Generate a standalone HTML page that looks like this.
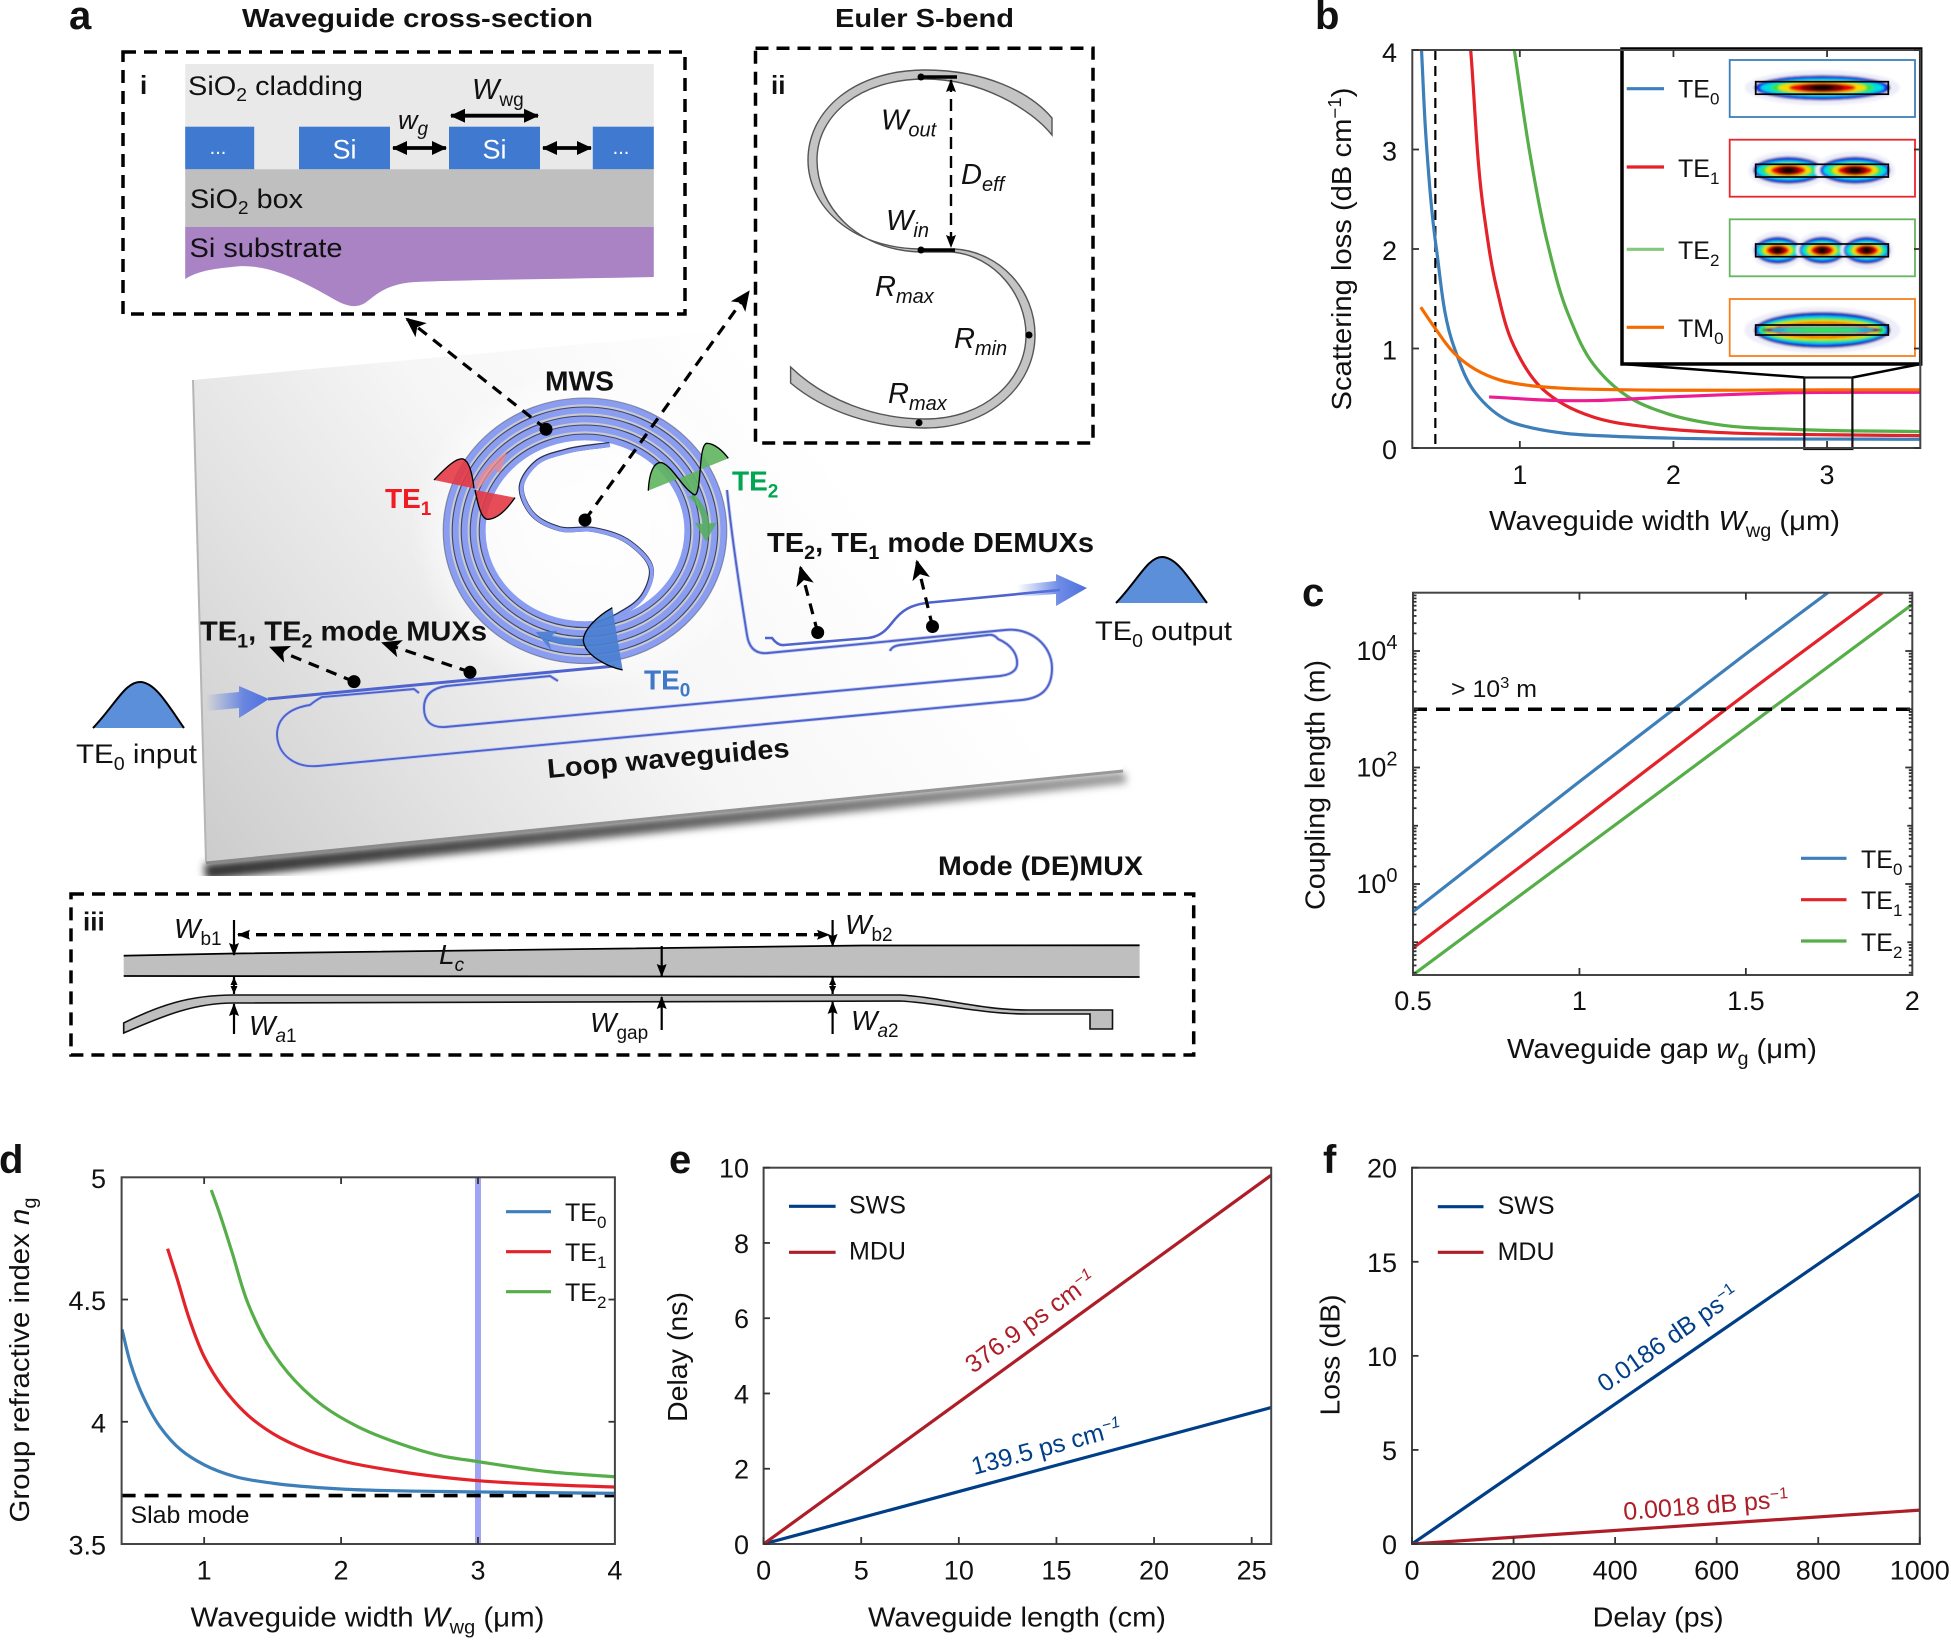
<!DOCTYPE html>
<html lang="en">
<head>
<meta charset="utf-8">
<title>Multimode waveguide figure</title>
<style>
html,body{margin:0;padding:0;background:#fff}
svg{display:block;font-family:"Liberation Sans",sans-serif}
text{fill:#111}
.b{font-weight:bold}
.i{font-style:italic}
.box{fill:none;stroke:#000;stroke-width:3.5;stroke-dasharray:13 8}
.da{stroke:#000;stroke-width:3.2;stroke-dasharray:11 8;fill:none;marker-end:url(#ah)}
.dot{fill:#000}
.wg{fill:none;stroke:#4f63c8;stroke-width:1.9}
.wgh{fill:none;stroke:#c2ccf4;stroke-width:3.6}
</style>
</head>
<body>
<svg id="fig" width="1951" height="1641" viewBox="0 0 1951 1641">
<defs>
<marker id="ah" markerUnits="userSpaceOnUse" markerWidth="22" markerHeight="20" refX="18" refY="9" orient="auto-start-reverse"><path d="M0,0 L20,9 L0,18 L5,9 Z" fill="#000"/></marker>
<marker id="ahs" markerUnits="userSpaceOnUse" markerWidth="14" markerHeight="12" refX="12" refY="5" orient="auto-start-reverse"><path d="M0,0 L13,5 L0,10 L2,5 Z" fill="#000"/></marker>
<marker id="aht" markerUnits="userSpaceOnUse" markerWidth="9" markerHeight="8" refX="8" refY="3.5" orient="auto-start-reverse"><path d="M0,0 L8,3.5 L0,7 Z" fill="#000"/></marker>
<marker id="ahm" markerUnits="userSpaceOnUse" markerWidth="16" markerHeight="16" refX="14" refY="7" orient="auto-start-reverse"><path d="M0,0 L15,7 L0,14 Z" fill="#000"/></marker>
<linearGradient id="chipg" gradientUnits="userSpaceOnUse" x1="206" y1="862" x2="800" y2="420"><stop offset="0" stop-color="#cccccc"/><stop offset=".32" stop-color="#e3e3e3"/><stop offset=".62" stop-color="#f6f6f6"/><stop offset="1" stop-color="#fff"/></linearGradient>
<linearGradient id="shadowg" gradientUnits="userSpaceOnUse" x1="204" y1="0" x2="1124" y2="0"><stop offset="0" stop-color="#333"/><stop offset=".6" stop-color="#666"/><stop offset="1" stop-color="#999"/></linearGradient>
<linearGradient id="edgeg" gradientUnits="userSpaceOnUse" x1="204" y1="0" x2="1124" y2="0"><stop offset="0" stop-color="#888"/><stop offset="1" stop-color="#999"/></linearGradient>
<radialGradient id="halo"><stop offset="0" stop-color="#fff" stop-opacity=".9"/><stop offset=".75" stop-color="#fff" stop-opacity=".6"/><stop offset="1" stop-color="#fff" stop-opacity="0"/></radialGradient>
<linearGradient id="inarrow" x1="0" x2="1" y1="0" y2="0"><stop offset="0" stop-color="#5577e0" stop-opacity="0"/><stop offset=".6" stop-color="#5577e0" stop-opacity=".85"/><stop offset="1" stop-color="#4c6fe0"/></linearGradient>
<filter id="blur4"><feGaussianBlur stdDeviation="4"/></filter>
<filter id="blur1" x="-10%" y="-30%" width="120%" height="160%"><feGaussianBlur stdDeviation="1"/></filter>
<clipPath id="shclip"><rect x="180" y="700" width="1000" height="176"/></clipPath>
<clipPath id="clip-b"><rect x="1412.3" y="50" width="508" height="398"/></clipPath>
<clipPath id="clip-c"><rect x="1413" y="592.7" width="499.3" height="382.3"/></clipPath>
<clipPath id="clip-d"><rect x="121.6" y="1177.3" width="493.3" height="366.7"/></clipPath>
<clipPath id="clip-e"><rect x="763.6" y="1167.7" width="507.6" height="376.3"/></clipPath>
<clipPath id="clip-f"><rect x="1412" y="1167.7" width="507.8" height="376.3"/></clipPath>
</defs>

<!-- PANEL A -->
<g id="panel-a">
<text class="b" x="69" y="29" font-size="40">a</text>
<text class="b" x="242" y="27" font-size="26" textLength="351" lengthAdjust="spacingAndGlyphs">Waveguide cross-section</text>
<text class="b" x="835" y="27" font-size="26" textLength="179" lengthAdjust="spacingAndGlyphs">Euler S-bend</text>

<g>
<polygon points="204,864 1124,772 1127,783 206,880" fill="url(#shadowg)" filter="url(#blur4)" clip-path="url(#shclip)"/>
<polygon points="193,380 1060,300 1123,770 206,862" fill="url(#chipg)"/>
<line x1="193" y1="380" x2="206" y2="862" stroke="#b5b5b5" stroke-width="2"/>
<line x1="206" y1="863" x2="1123" y2="771" stroke="url(#edgeg)" stroke-width="3"/>
</g>
<ellipse cx="585" cy="530" rx="175" ry="162" fill="url(#halo)"/>

<!-- box i -->
<rect x="123" y="52" width="562" height="262" fill="#fff" stroke="none"/>
<g>
<rect x="185.2" y="64" width="468.6" height="106" fill="#e9e9e9"/>
<rect x="185.2" y="126.7" width="69" height="42.6" fill="#3f79d0"/>
<rect x="299" y="126.7" width="91" height="42.6" fill="#3f79d0"/>
<rect x="449" y="126.7" width="91" height="42.6" fill="#3f79d0"/>
<rect x="592.8" y="126.7" width="61" height="42.6" fill="#3f79d0"/>
<rect x="185.2" y="169.3" width="468.6" height="58" fill="#bfbfbf"/>
<path d="M185.2,227 H653.8 V277 C560,279 460,280 415,282 C385,284 375,296 365,303 C355,309 345,306 330,297 C300,280 265,262 232,267 C212,269 198,271 185.2,279 Z" fill="#aa83c4"/>
</g>
<rect class="box" x="123" y="52" width="562" height="262"/>
<text class="b" x="140" y="94" font-size="26">i</text>
<text x="188" y="95" font-size="27" textLength="175" lengthAdjust="spacingAndGlyphs">SiO<tspan dy="6" font-size="18">2</tspan><tspan dy="-6"> cladding</tspan></text>
<text x="190" y="208" font-size="27" textLength="113" lengthAdjust="spacingAndGlyphs">SiO<tspan dy="6" font-size="18">2</tspan><tspan dy="-6"> box</tspan></text>
<text x="189.5" y="257" font-size="27" textLength="153" lengthAdjust="spacingAndGlyphs">Si substrate</text>
<text x="344.5" y="158.5" font-size="27" text-anchor="middle" style="fill:#fff">Si</text>
<text x="494.5" y="158.5" font-size="27" text-anchor="middle" style="fill:#fff">Si</text>
<text x="218" y="154" font-size="20" text-anchor="middle" style="fill:#fff">...</text>
<text x="621" y="154" font-size="20" text-anchor="middle" style="fill:#fff">...</text>
<text x="472" y="99" font-size="29"><tspan class="i">W</tspan><tspan dy="7" font-size="19">wg</tspan></text>
<text x="398" y="129" font-size="27"><tspan class="i">w</tspan><tspan dy="6" font-size="19" class="i">g</tspan></text>
<g stroke="#000" stroke-width="3.8">
<line x1="451" y1="115.7" x2="538" y2="115.7" marker-start="url(#ahm)" marker-end="url(#ahm)"/>
<line x1="393" y1="148" x2="446" y2="148" marker-start="url(#ahm)" marker-end="url(#ahm)"/>
<line x1="543" y1="148" x2="591" y2="148" marker-start="url(#ahm)" marker-end="url(#ahm)"/>
</g>

<!-- box ii -->
<rect x="755.5" y="48.3" width="337.5" height="394.7" fill="#fff" stroke="none"/>
<g>
<path d="M1052,118 C1030,92 985,70 925,70 C855,70 808,110 808,160 C808,205 850,248 920,249 L955,250 L952,252 L920,252 C855,250 817,205 817,160 C817,115 860,79 925,79 C980,79 1030,108 1052,135 Z" fill="#c4c4c4" stroke="#555" stroke-width="1.4"/>
<path d="M955,249 C1000,252 1035,290 1035,335 C1035,385 990,428 925,428 C875,428 825,412 790.6,383 L790.6,367 C825,400 875,419 925,419 C985,419 1026,380 1026,335 C1026,295 995,256 952,252 Z" fill="#c4c4c4" stroke="#555" stroke-width="1.4"/>
</g>
<rect class="box" x="755.5" y="48.3" width="337.5" height="394.7"/>
<text class="b" x="771" y="94" font-size="26">ii</text>
<g>
<line x1="919" y1="77" x2="957" y2="77" stroke="#000" stroke-width="3.5"/>
<line x1="919" y1="250" x2="955" y2="250" stroke="#000" stroke-width="3.5"/>
<line x1="951" y1="80" x2="951" y2="247" stroke="#000" stroke-width="2.4" stroke-dasharray="12 7" marker-start="url(#ahs)" marker-end="url(#ahs)"/>
<circle class="dot" cx="921" cy="77" r="3.5"/><circle class="dot" cx="921" cy="250" r="3.5"/><circle class="dot" cx="1029" cy="335" r="3.5"/><circle class="dot" cx="919" cy="422.7" r="3.5"/>
</g>
<g font-size="29">
<text x="881" y="129.3"><tspan class="i">W</tspan><tspan dy="7" font-size="20" class="i">out</tspan></text>
<text x="961" y="184"><tspan class="i">D</tspan><tspan dy="7" font-size="20" class="i">eff</tspan></text>
<text x="886" y="230"><tspan class="i">W</tspan><tspan dy="7" font-size="20" class="i">in</tspan></text>
<text x="875" y="296"><tspan class="i">R</tspan><tspan dy="7" font-size="20" class="i">max</tspan></text>
<text x="954" y="348"><tspan class="i">R</tspan><tspan dy="7" font-size="20" class="i">min</tspan></text>
<text x="888" y="403"><tspan class="i">R</tspan><tspan dy="7" font-size="20" class="i">max</tspan></text>
</g>

<!-- spiral -->
<g id="spiral"></g>
<g>
<path class="wgh" d="M727,490 C730,520 735,560 747,635 Q750,655 768,653 L1005,630 C1030,627 1052,645 1052,668 C1052,690 1040,698 1022,700 L318,766 C295,768 278,755 277,735 C277,718 290,708 310,705 Q316,700 322,697 L414,689 L419,693"/>
<path class="wg" d="M727,490 C730,520 735,560 747,635 Q750,655 768,653 L1005,630 C1030,627 1052,645 1052,668 C1052,690 1040,698 1022,700 L318,766 C295,768 278,755 277,735 C277,718 290,708 310,705 Q316,700 322,697 L414,689 L419,693"/>
<path class="wgh" d="M890,651 Q892,646 900,645 L988,635 Q994,634 998,639 C1012,645 1018,655 1017,665 C1016,672 1008,675 1000,676 L445,727 C430,728 424,720 424,708 C424,695 432,688 447,686 L550,676 L558,681"/>
<path class="wg" d="M890,651 Q892,646 900,645 L988,635 Q994,634 998,639 C1012,645 1018,655 1017,665 C1016,672 1008,675 1000,676 L445,727 C430,728 424,720 424,708 C424,695 432,688 447,686 L550,676 L558,681"/>
<path d="M268,699 L615,666" fill="none" stroke="#4f63cf" stroke-width="3"/>
<path d="M765,638 L772,638 Q778,646 784,645 L868,638 C885,636 890,624 897,617 C905,608 915,604 930,602.5 L1060,590" fill="none" stroke="#4f63cf" stroke-width="2.6"/>
</g>
<polygon points="206,695 239,692 239,686 269,699 239,718 239,708 206,711" fill="url(#inarrow)"/>
<polygon points="1017,585 1056,581 1056,574 1087,588 1056,606 1056,594 1017,597" fill="url(#inarrow)"/>

<!-- mode lobes -->
<g transform="translate(420 380) scale(.3333)">
<path d="M200,260 L262,212 L240,280 L225,268 L175,328 L162,310 Z" fill="#e88" opacity=".75"/>
<path d="M42,300 C80,260 110,232 130,237 C150,245 158,290 162,325 Z" fill="#e33a44" fill-opacity=".9"/>
<path d="M42,300 C80,260 110,232 130,237 C150,245 158,290 162,325" fill="none" stroke="#000" stroke-width="4"/>
<path d="M165,330 C175,380 185,420 205,418 C240,415 270,375 285,353 Z" fill="#e33a44" fill-opacity=".9"/>
<path d="M165,330 C175,380 185,420 205,418 C240,415 270,375 285,353" fill="none" stroke="#000" stroke-width="4"/>
<path d="M825,345 C850,370 865,400 868,430 L890,428 L858,485 L825,428 L848,432 C845,400 830,370 805,350 Z" fill="#54ae58" opacity=".85"/>
<path d="M685,332 C688,270 705,245 725,248 C760,260 790,330 825,345 C845,340 835,195 860,190 C885,190 910,215 925,235 Z" fill="#5fb55f" fill-opacity=".9"/>
<path d="M685,332 C688,270 705,245 725,248 C760,260 790,330 825,345 C845,340 835,195 860,190 C885,190 910,215 925,235" fill="none" stroke="#000" stroke-width="4"/>
<path d="M490,795 C440,800 400,790 385,780 L395,812 L347,757 L412,752 L395,768 C420,775 460,778 500,775 Z" fill="#4a7fd2" opacity=".9"/>
<path d="M577,683 C530,710 490,750 490,782 C495,825 560,860 608,870 Z" fill="#4a7fd2" fill-opacity=".93"/>
<path d="M577,683 C530,710 490,750 490,782 C495,825 560,860 608,870" fill="none" stroke="#000" stroke-width="4"/>
</g>

<!-- gaussians -->
<path d="M93,728 C115,705 125,682 140,682 C155,682 168,705 184,728 Z" fill="#5b8fd9" stroke="none"/>
<path d="M93,728 C115,705 125,682 140,682 C155,682 168,705 184,728" fill="none" stroke="#000" stroke-width="2"/>
<path d="M1116,603 C1138,580 1148,557 1162,557 C1177,557 1190,580 1207,603 Z" fill="#5b8fd9"/>
<path d="M1116,603 C1138,580 1148,557 1162,557 C1177,557 1190,580 1207,603" fill="none" stroke="#000" stroke-width="2"/>
<text x="76" y="763" font-size="27" textLength="121" lengthAdjust="spacingAndGlyphs">TE<tspan dy="7" font-size="18">0</tspan><tspan dy="-7"> input</tspan></text>
<text x="1095" y="640" font-size="27" textLength="137" lengthAdjust="spacingAndGlyphs">TE<tspan dy="7" font-size="18">0</tspan><tspan dy="-7"> output</tspan></text>

<!-- dashed callouts -->
<g>
<line class="da" x1="546" y1="429" x2="407" y2="319"/>
<line class="da" x1="585" y1="520" x2="748.5" y2="292"/>
<line class="da" x1="354" y1="681.6" x2="271" y2="647.5"/>
<line class="da" x1="470" y1="672" x2="383" y2="643"/>
<line class="da" x1="817.7" y1="632.5" x2="800.5" y2="567.5"/>
<line class="da" x1="932.5" y1="626.5" x2="917" y2="561.6"/>
<circle class="dot" cx="546" cy="429.3" r="6.5"/><circle class="dot" cx="585" cy="520" r="6.5"/><circle class="dot" cx="354" cy="681.6" r="6.5"/><circle class="dot" cx="470" cy="672.3" r="6.5"/><circle class="dot" cx="817.7" cy="632.5" r="6.5"/><circle class="dot" cx="932.5" cy="626.5" r="6.5"/>
</g>

<text class="b" x="545" y="390.5" font-size="28" textLength="69" lengthAdjust="spacingAndGlyphs">MWS</text>
<text class="b" x="385" y="508" font-size="28" style="fill:#f01c24">TE<tspan dy="7" font-size="19" style="fill:#f01c24">1</tspan></text>
<text class="b" x="732" y="490.5" font-size="28" style="fill:#00a651">TE<tspan dy="7" font-size="19" style="fill:#00a651">2</tspan></text>
<text class="b" x="644" y="689.5" font-size="28" style="fill:#3f78c9">TE<tspan dy="7" font-size="19" style="fill:#3f78c9">0</tspan></text>
<text class="b" x="767" y="552" font-size="28" textLength="327" lengthAdjust="spacingAndGlyphs">TE<tspan dy="7" font-size="19">2</tspan><tspan dy="-7">, TE</tspan><tspan dy="7" font-size="19">1</tspan><tspan dy="-7"> mode DEMUXs</tspan></text>
<text class="b" x="200" y="640.5" font-size="28" textLength="287" lengthAdjust="spacingAndGlyphs">TE<tspan dy="7" font-size="19">1</tspan><tspan dy="-7">, TE</tspan><tspan dy="7" font-size="19">2</tspan><tspan dy="-7"> mode MUXs</tspan></text>
<text class="b" x="548" y="778" font-size="27" transform="rotate(-5 548 778)" textLength="243" lengthAdjust="spacingAndGlyphs">Loop waveguides</text>
<text class="b" x="938" y="875" font-size="27" textLength="205" lengthAdjust="spacingAndGlyphs">Mode (DE)MUX</text>

<!-- box iii -->
<rect class="box" x="71" y="894" width="1122.7" height="161"/>
<text class="b" x="83" y="930.7" font-size="26">iii</text>
<g>
<path d="M123.7,955.7 L234,953.5 L862.6,945.5 L1139.6,945.3 V977 L123.7,976 Z" fill="#bfbfbf" stroke="none"/>
<path d="M123.7,955.7 L234,953.5 L862.6,945.5 L1139.6,945.3 M123.7,976 L1139.6,977" fill="none" stroke="#000" stroke-width="1.8"/>
<path d="M123.7,1023 C160,1005 190,995 234,995 L900,995 C940,997 980,1010 1028,1010 L1112.5,1010 V1029 H1090 V1014 H1028 C980,1014 940,1003 900,1001 L234,1003 C195,1003 165,1015 123.7,1033 Z" fill="#bfbfbf" stroke="#111" stroke-width="1.6"/>
</g>
<g stroke="#000" stroke-width="2.2">
<line x1="234" y1="920" x2="234" y2="955" marker-end="url(#ahs)"/>
<line x1="832.6" y1="920" x2="832.6" y2="946" marker-end="url(#ahs)"/>
<line x1="661.7" y1="946" x2="661.7" y2="976" marker-end="url(#ahs)"/>
<line x1="234" y1="977" x2="234" y2="994" marker-start="url(#aht)" marker-end="url(#aht)"/>
<line x1="832.6" y1="977" x2="832.6" y2="994" marker-start="url(#aht)" marker-end="url(#aht)"/>
<line x1="234" y1="1034" x2="234" y2="1004" marker-end="url(#ahs)"/>
<line x1="661.7" y1="1030" x2="661.7" y2="997" marker-end="url(#ahs)"/>
<line x1="832.6" y1="1034" x2="832.6" y2="1002" marker-end="url(#ahs)"/>
<line x1="238" y1="934.7" x2="829" y2="934.7" stroke-width="3.4" stroke-dasharray="11 7" marker-start="url(#ahs)" marker-end="url(#ahs)"/>
</g>
<g font-size="28">
<text x="174" y="938"><tspan class="i">W</tspan><tspan dy="7" font-size="19">b1</tspan></text>
<text x="845" y="934"><tspan class="i">W</tspan><tspan dy="7" font-size="19">b2</tspan></text>
<text x="439" y="964"><tspan class="i">L</tspan><tspan dy="7" font-size="19" class="i">c</tspan></text>
<text x="249" y="1035"><tspan class="i">W</tspan><tspan dy="7" font-size="19"><tspan class="i">a</tspan>1</tspan></text>
<text x="590" y="1032"><tspan class="i">W</tspan><tspan dy="7" font-size="19">gap</tspan></text>
<text x="851" y="1030"><tspan class="i">W</tspan><tspan dy="7" font-size="19"><tspan class="i">a</tspan>2</tspan></text>
</g>
</g>

<!-- PANEL B -->
<g id="panel-b">
<text class="b" x="1315" y="29" font-size="40">b</text>
<g id="b-curves" clip-path="url(#clip-b)"></g>
<g>
<rect x="1622" y="49" width="298.7" height="315" fill="#fff" stroke="#000" stroke-width="3.5"/>
<path d="M1622,364 L1804.3,377.5 M1920.7,364 L1852.4,377.5" stroke="#000" stroke-width="2.5" fill="none"/>
<rect x="1804.3" y="377.5" width="48.1" height="71.5" fill="none" stroke="#111" stroke-width="2.2"/>
<line x1="1626.7" x2="1664" y1="88.7" y2="88.7" stroke="#3d7fb9" stroke-width="3.2"/>
<line x1="1626.7" x2="1664" y1="167" y2="167" stroke="#e3222a" stroke-width="3.2"/>
<line x1="1626.7" x2="1664" y1="249.3" y2="249.3" stroke="#85c880" stroke-width="3.2"/>
<line x1="1626.7" x2="1664" y1="327.3" y2="327.3" stroke="#f56b00" stroke-width="3.2"/>
<text x="1678" y="97.5" font-size="25">TE<tspan dy="7" font-size="17">0</tspan></text>
<text x="1678" y="177" font-size="25">TE<tspan dy="7" font-size="17">1</tspan></text>
<text x="1678" y="259" font-size="25">TE<tspan dy="7" font-size="17">2</tspan></text>
<text x="1678" y="337" font-size="25">TM<tspan dy="7" font-size="17">0</tspan></text>
<rect x="1729.7" y="60" width="185.3" height="57" fill="#fff" stroke="#3d7fb9" stroke-width="1.8"/>
<rect x="1729.7" y="139.7" width="185.3" height="57" fill="#fff" stroke="#e8272d" stroke-width="1.8"/>
<rect x="1729.7" y="219.3" width="185.3" height="57" fill="#fff" stroke="#68b560" stroke-width="1.8"/>
<rect x="1729.7" y="299" width="185.3" height="57" fill="#fff" stroke="#f7801e" stroke-width="1.8"/>
<g id="fields" filter="url(#blur1)"></g>
<rect x="1755.7" y="81.7" width="132.6" height="12.5" fill="none" stroke="#000" stroke-width="1.7"/>
<rect x="1755.7" y="164.3" width="132.6" height="12.7" fill="none" stroke="#000" stroke-width="1.7"/>
<rect x="1755.7" y="244" width="132.6" height="12.7" fill="none" stroke="#000" stroke-width="1.7"/>
<rect x="1755.7" y="325" width="132.6" height="10" fill="none" stroke="#000" stroke-width="1.7"/>
</g>
<g id="b-axes"></g>
<text x="1489" y="530" font-size="28" textLength="351" lengthAdjust="spacingAndGlyphs">Waveguide width <tspan class="i">W</tspan><tspan dy="7" font-size="19">wg</tspan><tspan dy="-7"> (μm)</tspan></text>
<text x="1351" y="249" font-size="28" text-anchor="middle" transform="rotate(-90 1351 249)" textLength="323" lengthAdjust="spacingAndGlyphs">Scattering loss (dB cm<tspan dy="-10" font-size="18">−1</tspan><tspan dy="10">)</tspan></text>
</g>

<!-- PANEL C -->
<g id="panel-c">
<text class="b" x="1302" y="606" font-size="40">c</text>
<g id="c-curves" clip-path="url(#clip-c)"></g>
<g id="c-axes"></g>
<text x="1451" y="697" font-size="24" textLength="86" lengthAdjust="spacingAndGlyphs">&gt; 10<tspan dy="-9" font-size="16">3</tspan><tspan dy="9"> m</tspan></text>
<line x1="1801" x2="1846.5" y1="858.3" y2="858.3" stroke="#3d7fb9" stroke-width="3.2"/>
<line x1="1801" x2="1846.5" y1="899.7" y2="899.7" stroke="#e3222a" stroke-width="3.2"/>
<line x1="1801" x2="1846.5" y1="941" y2="941" stroke="#55ae47" stroke-width="3.2"/>
<text x="1861" y="868" font-size="25">TE<tspan dy="7" font-size="17">0</tspan></text>
<text x="1861" y="909" font-size="25">TE<tspan dy="7" font-size="17">1</tspan></text>
<text x="1861" y="951" font-size="25">TE<tspan dy="7" font-size="17">2</tspan></text>
<text x="1507" y="1058" font-size="28" textLength="310" lengthAdjust="spacingAndGlyphs">Waveguide gap <tspan class="i">w</tspan><tspan dy="7" font-size="19">g</tspan><tspan dy="-7"> (μm)</tspan></text>
<text x="1324.5" y="785" font-size="28" text-anchor="middle" transform="rotate(-90 1324.5 785)" textLength="250" lengthAdjust="spacingAndGlyphs">Coupling length (m)</text>
</g>

<!-- PANEL D -->
<g id="panel-d">
<text class="b" x="-1" y="1173" font-size="40">d</text>
<g id="d-curves" clip-path="url(#clip-d)"></g>
<g id="d-axes"></g>
<line x1="506" x2="551" y1="1211.7" y2="1211.7" stroke="#3d7fb9" stroke-width="3.2"/>
<line x1="506" x2="551" y1="1251.7" y2="1251.7" stroke="#e3222a" stroke-width="3.2"/>
<line x1="506" x2="551" y1="1291.7" y2="1291.7" stroke="#55ae47" stroke-width="3.2"/>
<text x="565" y="1221" font-size="25">TE<tspan dy="7" font-size="17">0</tspan></text>
<text x="565" y="1261" font-size="25">TE<tspan dy="7" font-size="17">1</tspan></text>
<text x="565" y="1301" font-size="25">TE<tspan dy="7" font-size="17">2</tspan></text>
<text x="130.5" y="1523" font-size="24" textLength="119" lengthAdjust="spacingAndGlyphs">Slab mode</text>
<text x="190.5" y="1626.7" font-size="28" textLength="354" lengthAdjust="spacingAndGlyphs">Waveguide width <tspan class="i">W</tspan><tspan dy="7" font-size="19">wg</tspan><tspan dy="-7"> (μm)</tspan></text>
<text x="29" y="1360" font-size="28" text-anchor="middle" transform="rotate(-90 29 1360)" textLength="325" lengthAdjust="spacingAndGlyphs">Group refractive index <tspan class="i">n</tspan><tspan dy="7" font-size="19">g</tspan></text>
</g>

<!-- PANEL E -->
<g id="panel-e">
<text class="b" x="669" y="1173" font-size="40">e</text>
<g id="e-curves" clip-path="url(#clip-e)"></g>
<g id="e-axes"></g>
<line x1="789" x2="835.6" y1="1206.3" y2="1206.3" stroke="#003f88" stroke-width="3.2"/>
<line x1="789" x2="835.6" y1="1252.3" y2="1252.3" stroke="#ae1e28" stroke-width="3.2"/>
<text x="849" y="1213.5" font-size="25">SWS</text>
<text x="849" y="1259.5" font-size="25">MDU</text>
<text x="973" y="1374" font-size="25" transform="rotate(-36 973 1374)" style="fill:#ae1e28">376.9 ps cm<tspan dy="-9" font-size="16" class="i" style="fill:#ae1e28">−1</tspan></text>
<text x="974" y="1475" font-size="25" transform="rotate(-15 974 1475)" style="fill:#003f88">139.5 ps cm<tspan dy="-9" font-size="16" class="i" style="fill:#003f88">−1</tspan></text>
<text x="868" y="1626.7" font-size="28" textLength="298" lengthAdjust="spacingAndGlyphs">Waveguide length (cm)</text>
<text x="687" y="1357" font-size="28" text-anchor="middle" transform="rotate(-90 687 1357)" textLength="130" lengthAdjust="spacingAndGlyphs">Delay (ns)</text>
</g>

<!-- PANEL F -->
<g id="panel-f">
<text class="b" x="1323" y="1173" font-size="40">f</text>
<g id="f-curves" clip-path="url(#clip-f)"></g>
<g id="f-axes"></g>
<line x1="1437.8" x2="1483.5" y1="1206.7" y2="1206.7" stroke="#003f88" stroke-width="3.2"/>
<line x1="1437.8" x2="1483.5" y1="1252.3" y2="1252.3" stroke="#ae1e28" stroke-width="3.2"/>
<text x="1497.6" y="1214" font-size="25">SWS</text>
<text x="1497.6" y="1260" font-size="25">MDU</text>
<text x="1605" y="1393" font-size="25" transform="rotate(-35 1605 1393)" style="fill:#003f88">0.0186 dB ps<tspan dy="-9" font-size="16" style="fill:#003f88">−1</tspan></text>
<text x="1624" y="1520" font-size="25" transform="rotate(-4.5 1624 1520)" style="fill:#ae1e28">0.0018 dB ps<tspan dy="-9" font-size="16" style="fill:#ae1e28">−1</tspan></text>
<text x="1592.6" y="1626.7" font-size="28" textLength="131" lengthAdjust="spacingAndGlyphs">Delay (ps)</text>
<text x="1339.5" y="1355" font-size="28" text-anchor="middle" transform="rotate(-90 1339.5 1355)" textLength="121" lengthAdjust="spacingAndGlyphs">Loss (dB)</text>
</g>
</svg>

<script>
/* ---- chart data ---- */
const bXTicks = [1, 2, 3];
const bYTicks = [0, 1, 2, 3, 4];
const bWidthTE0 = [0.36, 0.39, 0.457, 0.575, 0.71, 0.93, 1.1, 1.29, 1.6, 1.97, 3, 3.607];
const bLossTE0 = [4, 3.1, 2, 1, 0.556, 0.27, 0.195, 0.148, 0.118, 0.1, 0.09, 0.088];
const bWidthTE1 = [0.68, 0.767, 0.85, 0.96, 1.15, 1.29, 1.48, 1.84, 2.25, 3, 3.607];
const bLossTE1 = [4, 2.35, 1.6, 1.03, 0.59, 0.435, 0.31, 0.21, 0.16, 0.133, 0.125];
const bWidthTE2 = [0.964, 1.07, 1.18, 1.315, 1.48, 1.7, 1.97, 2.3, 2.8, 3.607];
const bLossTE2 = [4, 2.92, 2.06, 1.345, 0.84, 0.52, 0.34, 0.233, 0.186, 0.165];
const bWidthTM0 = [0.355, 0.45, 0.575, 0.71, 0.877, 1.07, 1.29, 1.7, 3, 3.607];
const bLossTM0 = [1.415, 1.2, 0.95, 0.79, 0.68, 0.627, 0.6, 0.585, 0.585, 0.585];
const bWidthSlab = [0.8, 1.26, 1.48, 1.97, 2.8, 3.607];
const bLossSlab = [0.513, 0.477, 0.477, 0.513, 0.556, 0.56];
const bCutoffWidth = [0.45];

const cXTicks = [0.5, 1, 1.5, 2];
const cXTickLabels = ['0.5', '1', '1.5', '2'];
const cYExponents = [4, 2, 0];
const cGapTE0 = [0.5, 1, 1.283, 1.5, 1.746];
const cLogTE0 = [-0.475, 1.757, 3, 3.95, 5];
const cGapTE1 = [0.5, 1, 1.44, 1.5, 1.91];
const cLogTE1 = [-1.1, 1.07, 3, 3.26, 5];
const cGapTE2 = [0.5, 1, 1.5, 1.575, 2];
const cLogTE2 = [-1.56, 0.56, 2.68, 3, 4.8];
const cThreshold = [3];

const dXTicks = [1, 2, 3, 4];
const dYTicks = [3.5, 4, 4.5, 5];
const dYTickLabels = ['3.5', '4', '4.5', '5'];
const dWidthTE0 = [0.4, 0.462, 0.554, 0.677, 0.83, 1, 1.23, 1.51, 2, 2.58, 3, 4];
const dIndexTE0 = [4.378, 4.239, 4.103, 3.98, 3.885, 3.824, 3.775, 3.748, 3.725, 3.716, 3.713, 3.707];
const dWidthTE1 = [0.733, 0.8, 0.892, 1, 1.138, 1.323, 1.507, 1.753, 2, 2.43, 3, 3.51, 4];
const dIndexTE1 = [4.708, 4.59, 4.42, 4.266, 4.14, 4.025, 3.95, 3.884, 3.841, 3.796, 3.759, 3.743, 3.733];
const dWidthTE2 = [1.052, 1.108, 1.2, 1.323, 1.477, 1.66, 1.876, 2.122, 2.43, 2.706, 3, 3.51, 4];
const dIndexTE2 = [4.948, 4.86, 4.70, 4.48, 4.305, 4.17, 4.062, 3.98, 3.91, 3.864, 3.837, 3.796, 3.775];
const dSlabIndex = [3.698];
const dMarkedWidth = [3];

const eXTicks = [0, 5, 10, 15, 20, 25];
const eYTicks = [0, 2, 4, 6, 8, 10];
const eLength = [0, 26];
const eDelaySWS = [0, 3.627];
const eDelayMDU = [0, 9.8];

const fXTicks = [0, 200, 400, 600, 800, 1000];
const fYTicks = [0, 5, 10, 15, 20];
const fDelay = [0, 1000];
const fLossSWS = [0, 18.6];
const fLossMDU = [0, 1.8];

/* ---- helpers ---- */
const svg = document.getElementById('fig');
const NS = svg.namespaceURI;
function mk(tag, parent) { const e = document.createElementNS(NS, tag); parent.appendChild(e); return e; }
function lin(d0, d1, r0, r1) { return v => r0 + (v - d0) * (r1 - r0) / (d1 - d0); }
/* non-uniform cubic spline through the read points */
function smooth(p) {
  const n = p.length;
  const dist = (a, b) => Math.hypot(a[0] - b[0], a[1] - b[1]) || 1e-6;
  const tan = [];
  for (let i = 0; i < n; i++) {
    if (i === 0 || i === n - 1) { tan.push(null); continue; }
    const d1 = dist(p[i - 1], p[i]), d2 = dist(p[i], p[i + 1]);
    tan.push([0, 1].map(k => (((p[i + 1][k] - p[i][k]) / d2) * d1 + ((p[i][k] - p[i - 1][k]) / d1) * d2) / (d1 + d2)));
  }
  let d = 'M' + p[0][0].toFixed(2) + ',' + p[0][1].toFixed(2);
  for (let i = 0; i < n - 1; i++) {
    const h = dist(p[i], p[i + 1]);
    const unit = [(p[i + 1][0] - p[i][0]) / h, (p[i + 1][1] - p[i][1]) / h];
    const t0 = tan[i] || unit, t1 = tan[i + 1] || unit;
    d += 'C' + (p[i][0] + t0[0] * h / 3).toFixed(2) + ',' + (p[i][1] + t0[1] * h / 3).toFixed(2) + ' ' +
         (p[i + 1][0] - t1[0] * h / 3).toFixed(2) + ',' + (p[i + 1][1] - t1[1] * h / 3).toFixed(2) + ' ' +
         p[i + 1][0].toFixed(2) + ',' + p[i + 1][1].toFixed(2);
  }
  return d;
}
function curve(parent, xs, ys, sx, sy, color, w) {
  const p = mk('path', parent);
  p.setAttribute('d', smooth(xs.map((x, i) => [sx(x), sy(ys[i])])));
  p.setAttribute('fill', 'none');
  p.setAttribute('stroke', color);
  p.setAttribute('stroke-width', w || 3.2);
  return p;
}
function frame(parent, x, y, w, h) {
  const r = mk('rect', parent);
  r.setAttribute('x', x); r.setAttribute('y', y); r.setAttribute('width', w); r.setAttribute('height', h);
  r.setAttribute('fill', 'none'); r.setAttribute('stroke', '#444'); r.setAttribute('stroke-width', 2);
  
  
}
function tick(parent, x1, y1, x2, y2) {
  const l = mk('line', parent);
  l.setAttribute('x1', x1); l.setAttribute('y1', y1); l.setAttribute('x2', x2); l.setAttribute('y2', y2);
  l.setAttribute('stroke', '#333'); l.setAttribute('stroke-width', 1.8);
  
  
}
function tickLabel(parent, x, y, str, anchor) {
  const t = mk('text', parent);
  t.setAttribute('x', x); t.setAttribute('y', y); t.setAttribute('text-anchor', anchor);
  t.setAttribute('font-size', 27);
  t.textContent = str;
  
  
  return t;
}
function dashed(parent, x1, y1, x2, y2, w, dash, color) {
  const l = mk('line', parent);
  l.setAttribute('x1', x1); l.setAttribute('y1', y1); l.setAttribute('x2', x2); l.setAttribute('y2', y2);
  l.setAttribute('stroke', color || '#000'); l.setAttribute('stroke-width', w);
  if (dash) l.setAttribute('stroke-dasharray', dash);
  return l;
}

/* ---- panel b ---- */
{
  const X = lin(0.3, 3.607, 1412.3, 1920.3), Y = lin(0, 4, 448, 50);
  const g = document.getElementById('b-curves'), a = document.getElementById('b-axes');
  const cut = dashed(g, X(bCutoffWidth[0]), 50, X(bCutoffWidth[0]), 448, 2.2, '10 6');
  
  
  const s1 = curve(g, bWidthTE0, bLossTE0, X, Y, '#3d7fb9');
  
  
  const s2 = curve(g, bWidthTE1, bLossTE1, X, Y, '#e3222a');
  
  
  const s3 = curve(g, bWidthTE2, bLossTE2, X, Y, '#55ae47');
  
  
  const s5 = curve(g, bWidthSlab, bLossSlab, X, Y, '#ee1b93');
  
  
  const s4 = curve(g, bWidthTM0, bLossTM0, X, Y, '#f56b00');
  
  
  frame(a, 1412.3, 50, 508, 398);
  bXTicks.forEach(v => {
    tick(a, X(v), 448, X(v), 441); tick(a, X(v), 50, X(v), 57);
    tickLabel(a, X(v), 484, String(v), 'middle');
  });
  bYTicks.forEach(v => {
    tick(a, 1412.3, Y(v), 1419, Y(v)); tick(a, 1920.3, Y(v), 1914, Y(v));
    tickLabel(a, 1397, v === 4 ? 62 : Y(v) + 11, String(v), 'end');
  });
}

/* ---- panel c ---- */
{
  const X = lin(0.5, 2, 1413, 1912.3), Y = lin(0, 4, 884, 651);
  const g = document.getElementById('c-curves'), a = document.getElementById('c-axes');
  const s1 = curve(g, cGapTE0, cLogTE0, X, Y, '#3d7fb9');
  
  
  const s2 = curve(g, cGapTE1, cLogTE1, X, Y, '#e3222a');
  
  
  const s3 = curve(g, cGapTE2, cLogTE2, X, Y, '#55ae47');
  
  
  const th = dashed(g, 1413, Y(cThreshold[0]), 1912.3, Y(cThreshold[0]), 3.6, '14 9');
  
  
  frame(a, 1413, 592.7, 499.3, 382.3);
  cXTicks.forEach((v, i) => {
    if (i > 0 && i < cXTicks.length - 1) { tick(a, X(v), 975, X(v), 968); tick(a, X(v), 592.7, X(v), 599.7); }
    tickLabel(a, X(v), 1010, cXTickLabels[i], 'middle');
  });
  for (let dec = -2; dec <= 4; dec++) {
    for (let m = 1; m < 10; m++) {
      const lv = dec + Math.log10(m), y = Y(lv);
      if (y < 594 || y > 974) continue;
      const major = m === 1 && dec % 2 === 0;
      const len = major ? 7 : (m === 1 ? 5 : 3.5);
      tick(a, 1413, y, 1413 + len, y); tick(a, 1912.3, y, 1912.3 - len, y);
    }
  }
  cYExponents.forEach(e => {
    const t = tickLabel(a, 1397.5, Y(e) + 9, '10', 'end');
    const s = mk('tspan', t);
    s.setAttribute('dy', -11);
    s.setAttribute('font-size', 20);
    s.textContent = String(e);
  });
}

/* ---- panel d ---- */
{
  const X = lin(0.397, 4, 121.6, 614.9), Y = lin(3.5, 5, 1544, 1177.3);
  const g = document.getElementById('d-curves'), a = document.getElementById('d-axes');
  const band = dashed(g, X(dMarkedWidth[0]), 1177.3, X(dMarkedWidth[0]), 1544, 6, null, '#a0a4f4');
  
  
  const sl = dashed(g, 121.6, Y(dSlabIndex[0]), 614.9, Y(dSlabIndex[0]), 3.6, '14 9');
  
  
  const s1 = curve(g, dWidthTE0, dIndexTE0, X, Y, '#3d7fb9');
  
  
  const s2 = curve(g, dWidthTE1, dIndexTE1, X, Y, '#e3222a');
  
  
  const s3 = curve(g, dWidthTE2, dIndexTE2, X, Y, '#55ae47');
  
  
  frame(a, 121.6, 1177.3, 493.3, 366.7);
  dXTicks.forEach(v => {
    if (v < 4) { tick(a, X(v), 1544, X(v), 1537); tick(a, X(v), 1177.3, X(v), 1184); }
    tickLabel(a, X(v), 1579.3, String(v), 'middle');
  });
  dYTicks.forEach((v, i) => {
    if (i > 0 && i < dYTicks.length - 1) { tick(a, 121.6, Y(v), 128, Y(v)); tick(a, 614.9, Y(v), 608.5, Y(v)); }
    tickLabel(a, 106, Y(v) + 10.5, dYTickLabels[i], 'end');
  });
}

/* ---- panel e ---- */
{
  const X = lin(0, 26, 763.6, 1271.2), Y = lin(0, 10, 1544, 1167.7);
  const g = document.getElementById('e-curves'), a = document.getElementById('e-axes');
  const s1 = curve(g, eLength, eDelaySWS, X, Y, '#003f88');
  
  
  const s2 = curve(g, eLength, eDelayMDU, X, Y, '#ae1e28');
  
  
  frame(a, 763.6, 1167.7, 507.6, 376.3);
  eXTicks.forEach(v => {
    tick(a, X(v), 1544, X(v), 1537);
    tickLabel(a, X(v), 1579.3, String(v), 'middle');
  });
  eYTicks.forEach(v => {
    tick(a, 763.6, Y(v), 770, Y(v));
    tickLabel(a, 749, Y(v) + 10, String(v), 'end');
  });
}

/* ---- panel f ---- */
{
  const X = lin(0, 1000, 1412, 1919.8), Y = lin(0, 20, 1544, 1167.7);
  const g = document.getElementById('f-curves'), a = document.getElementById('f-axes');
  const s1 = curve(g, fDelay, fLossSWS, X, Y, '#003f88');
  
  
  const s2 = curve(g, fDelay, fLossMDU, X, Y, '#ae1e28');
  
  
  frame(a, 1412, 1167.7, 507.8, 376.3);
  fXTicks.forEach(v => {
    tick(a, X(v), 1544, X(v), 1537);
    tickLabel(a, X(v), 1579.3, String(v), 'middle');
  });
  fYTicks.forEach(v => {
    tick(a, 1412, Y(v), 1418.5, Y(v));
    tickLabel(a, 1397, Y(v) + 10, String(v), 'end');
  });
}

/* ---- mode field maps (nested colour shapes) ---- */
{
  const g = document.getElementById('fields');
  const jetColors = ['#eeeefa', '#000a70', '#0a30ff', '#00dcdc', '#36e636', '#ffd800', '#e60000', '#700000', '#000000'];
  const jetRx = [1.14, 1, 0.97, 0.91, 0.76, 0.65, 0.49, 0.32, 0.18];
  const jetRy = [1.4, 1, 0.88, 0.72, 0.56, 0.48, 0.4, 0.32, 0.2];
  function lobe(cx, cy, rx, ry) {
    jetColors.forEach((c, i) => {
      const e = mk('ellipse', g);
      e.setAttribute('cx', cx); e.setAttribute('cy', cy);
      e.setAttribute('rx', rx * jetRx[i]); e.setAttribute('ry', ry * jetRy[i]);
      e.setAttribute('fill', c);
    });
  }
  lobe(1822.3, 87.7, 68, 12.5);
  lobe(1788.3, 170.3, 35, 13.5);
  lobe(1855, 170.3, 35, 13.5);
  lobe(1777.7, 250.3, 23, 13.5);
  lobe(1822.3, 250.3, 23, 13.5);
  lobe(1866.7, 250.3, 23, 13.5);
  const tmColors = ['#eeeefa', '#000a70', '#0a30ff', '#00dcdc', '#36e636', '#ffd800', '#e60000', '#ffd800', '#000a70', '#00bcdc', '#36e636'];
  const tmHalfW = [78, 68, 66, 64, 62, 58, 50, 50, 60, 52, 38];
  const tmHalfH = [23, 18, 16, 14, 12, 10, 8, 6, 4, 3.4, 2.2];
  tmColors.forEach((c, i) => {
    const e = mk('ellipse', g);
    e.setAttribute('cx', 1822.3); e.setAttribute('cy', 330);
    e.setAttribute('rx', tmHalfW[i]); e.setAttribute('ry', tmHalfH[i]);
    e.setAttribute('fill', c);
  });
}

/* ---- illustration: spiral ---- */
{
  const g = document.getElementById('spiral');
  const cx = 585, cy = 530.8;
  const bg = mk('ellipse', g);
  bg.setAttribute('cx', cx); bg.setAttribute('cy', cy); bg.setAttribute('rx', 120.5); bg.setAttribute('ry', 111.5);
  bg.setAttribute('fill', 'none'); bg.setAttribute('stroke', '#c9cbd2'); bg.setAttribute('stroke-width', 40);
  const radiiX = [138.5, 129.5, 120.5, 111.5, 102.5];
  const radiiY = [129.5, 120.5, 111.5, 102.5, 93.5];
  radiiX.forEach((rx, i) => {
    const ry = radiiY[i];
    const b = mk('ellipse', g);
    b.setAttribute('cx', cx); b.setAttribute('cy', cy); b.setAttribute('rx', rx); b.setAttribute('ry', ry);
    b.setAttribute('fill', 'none'); b.setAttribute('stroke', '#8a9df0'); b.setAttribute('stroke-width', 6.2);
    const d = mk('ellipse', g);
    d.setAttribute('cx', cx); d.setAttribute('cy', cy); d.setAttribute('rx', rx + 3.3); d.setAttribute('ry', ry + 3.3);
    d.setAttribute('fill', 'none'); d.setAttribute('stroke', '#2a3050'); d.setAttribute('stroke-width', 1.1);
    d.setAttribute('stroke-opacity', i === 0 ? .5 : .85);
  });
  const sPts = [[610,445],[566.7,451.7],[536.7,463.3],[521.7,486.7],[531.7,513.3],[560,529.3],[593.3,530],[630,543.3],[651.7,570],[643.3,596.7],[616.7,616.7],[593,626.7]];
  const sd = smooth(sPts);
  const s0 = mk('path', g);
  s0.setAttribute('d', sd); s0.setAttribute('fill', 'none'); s0.setAttribute('stroke', '#2a3050'); s0.setAttribute('stroke-width', 5.2);
  s0.setAttribute('transform', 'translate(-.4 -.6)');
  const s = mk('path', g);
  s.setAttribute('d', sd); s.setAttribute('fill', 'none'); s.setAttribute('stroke', '#8a9df0'); s.setAttribute('stroke-width', 4);
  
  
}
</script>
</body>
</html>
